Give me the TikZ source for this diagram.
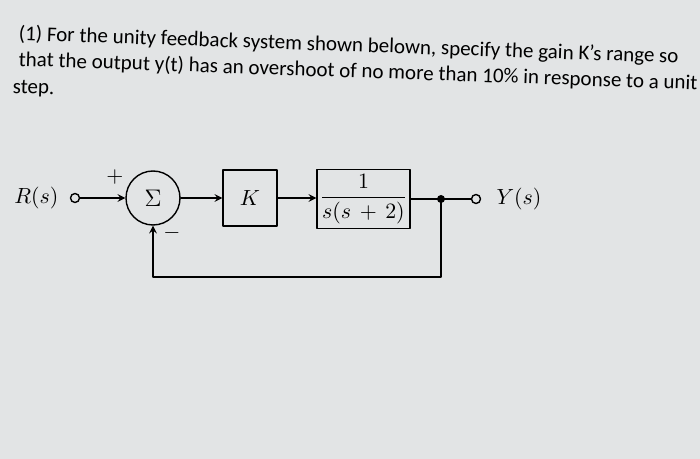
\documentclass[tikz,border=0pt]{standalone}
\usepackage{amsmath}
\usepackage{fontspec}
\newfontfamily\qfont{Carlito}
\usetikzlibrary{positioning}
\definecolor{paper}{RGB}{226,228,229}
\begin{document}
\begin{tikzpicture}[x=.5pt, y=-.5pt, line join=round, line cap=round, >=stealth, line width=.7pt,
	font=\fontsize{11}{13}\selectfont,
	block/.style={draw, minimum width=27pt, minimum height=28pt, inner sep=0pt},
	term/.style={draw, circle, inner sep=0pt, minimum size=4.5pt, fill=paper}]
	\fill[paper] (0,0) rectangle (700,459);
	\useasboundingbox (0,0) rectangle (700,459);
	% question text
	\begin{scope}[font=\qfont\fontsize{10.5}{12}\selectfont, inner sep=0pt]
	\node[anchor=base west, rotate=-2] (line1) at (18,40) {(1) For the unity feedback system shown belown, specify the gain K’s range so};
	\node[anchor=base west, rotate=-2] (line2) at (18,66) {that the output y(t) has an overshoot of no more than 10\% in response to a unit};
	\node[anchor=base west, rotate=-2] (line3) at (12,93) {step.};
	\end{scope}
	% block diagram
	\node[term] (in) at (75,198) {};
	\node[left=2pt of in] (R) {$R(s)$};
	\node[draw, circle, minimum size=27pt, inner sep=0pt, font=\large] (sum) at (153,198) {$\Sigma$};
	\node[block] (K) at (250,198) {$K$};
	\node[block, minimum width=46.5pt, minimum height=29.5pt] (G) at (363.5,199) {$\dfrac{1}{s(s\,+\,2)}$};
	\coordinate (br) at (441,199);
	\node[term] (out) at (476,199) {};
	\node[right=4pt of out] (Y) {$Y(s)$};
	\draw[->] (in) -- (sum);
	\draw[->] (sum) -- (K);
	\draw[->] (K.east) -- (K.east -| G.west);
	\draw (G) -- (br) -- (out);
	\fill (br) circle (2pt);
	\draw[->] (br) -- ++(0,78) -| (sum.south);
	\foreach \n/\s/\p in {plus/+/{115,177}, minus/-/{172,233}}{
		\node (\n) at (\p) {$\s$};
	}
\end{tikzpicture}
\end{document}
